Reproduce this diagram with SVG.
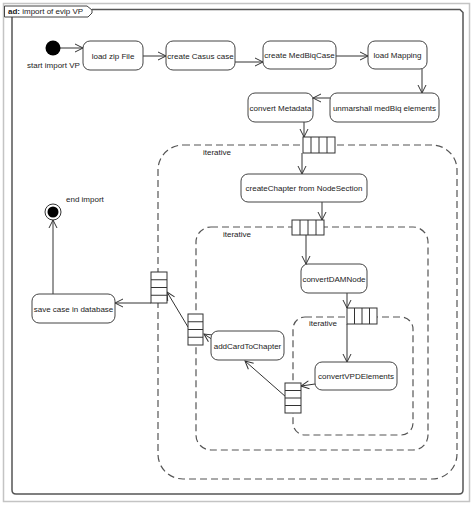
<svg xmlns="http://www.w3.org/2000/svg" width="474" height="507" viewBox="0 0 474 507">
<defs>
<marker id="arr" markerUnits="userSpaceOnUse" markerWidth="12" markerHeight="12" refX="9" refY="5" orient="auto">
<path d="M1,1 L9,5 L1,9" fill="none" stroke="#333" stroke-width="1"/>
</marker>
<style>
text{font-family:"Liberation Sans",Arial,sans-serif;font-size:8px;fill:#222}
.c{text-anchor:middle}
.node{fill:#fff;stroke:#444;stroke-width:1}
.pin{fill:#fff;stroke:#333;stroke-width:1}
.div{stroke:#333;stroke-width:1}
.region{fill:none;stroke:#555;stroke-width:1.2;stroke-dasharray:7 4}
.edge{fill:none;stroke:#333;stroke-width:1;marker-end:url(#arr)}
</style>
</defs>
<rect width="474" height="507" fill="#fff"/>
<!-- frame -->
<rect x="3.5" y="3.5" width="466" height="498" fill="none" stroke="#c4c4c4" stroke-width="1.5"/>
<path d="M92,9.5 H460 L463,12.5 V490 Q463,494 459,494 H16 Q12,494 12,490 V17" fill="none" stroke="#555" stroke-width="1.5"/>
<path d="M4.5,6 H87 L92,10 V13 L88,17 H4.5 Z" fill="#fff" stroke="#444" stroke-width="1"/>
<text x="8" y="14"><tspan font-weight="bold">ad:</tspan> import of evip VP</text>

<g id="regions">
<rect id="region1" class="region" x="158" y="145" width="299" height="334" rx="25"/>
<rect id="region2" class="region" x="196" y="227" width="232" height="223" rx="15"/>
<rect id="region3" class="region" x="293" y="317" width="120" height="118" rx="12"/>
<text x="203" y="155">iterative</text>
<text x="223" y="237">iterative</text>
<text x="309" y="326">iterative</text>
</g>

<g id="connectors">
<path class="edge" d="M60,48 H83"/>
<path class="edge" d="M143,56 H166"/>
<path class="edge" d="M235,62 H263"/>
<path class="edge" d="M336,56 H368"/>
<path class="edge" d="M422,69 V93"/>
<path class="edge" d="M330,98 H313"/>
<path class="edge" d="M304,122 V137"/>
<path class="edge" d="M302,153 V174"/>
<path class="edge" d="M322,202 V220"/>
<path class="edge" d="M306,235 V264"/>
<path class="edge" d="M347,293 V308"/>
<path class="edge" d="M347,324 V362"/>
<path class="edge" d="M315,384 L301,386"/>
<path class="edge" d="M286,397 L245,361"/>
<path class="edge" d="M213,340 L204,334"/>
<path class="edge" d="M188,327 L167,292"/>
<path class="edge" d="M151,303 H115"/>
<path class="edge" d="M53,294 V220"/>
</g>

<g id="start">
<circle cx="53" cy="48" r="7.5" fill="#000"/>
<text x="27" y="68">start import VP</text>
</g>
<g id="end">
<circle cx="53" cy="212" r="8" fill="#fff" stroke="#333" stroke-width="1"/>
<circle cx="53" cy="212" r="5.5" fill="#000"/>
<text x="66" y="202">end import</text>
</g>

<g id="loadZip"><rect class="node" x="83" y="41" width="60" height="29" rx="7"/><text class="c" x="113" y="58.5">load zip File</text></g>
<g id="createCasus"><rect class="node" x="166" y="41" width="69" height="29" rx="7"/><text class="c" x="200.5" y="58.5">create Casus case</text></g>
<g id="createMedBiq"><rect class="node" x="263" y="41" width="73" height="28" rx="7"/><text class="c" x="299.5" y="58">create MedBiqCase</text></g>
<g id="loadMapping"><rect class="node" x="368" y="41" width="59" height="28" rx="7"/><text class="c" x="397.5" y="58">load Mapping</text></g>
<g id="unmarshall"><rect class="node" x="330" y="93" width="109" height="29" rx="7"/><text class="c" x="384.5" y="110.5">unmarshall medBiq elements</text></g>
<g id="convertMetadata"><rect class="node" x="248" y="93" width="65" height="29" rx="7"/><text class="c" x="280.5" y="110.5">convert Metadata</text></g>
<g id="createChapter"><rect class="node" x="241" y="174" width="126" height="28" rx="7"/><text class="c" x="304" y="191">createChapter from NodeSection</text></g>
<g id="convertDAMNode"><rect class="node" x="301" y="264" width="66" height="29" rx="7"/><text class="c" x="334" y="281.5">convertDAMNode</text></g>
<g id="convertVPDElements"><rect class="node" x="315" y="362" width="82" height="28" rx="7"/><text class="c" x="356" y="379">convertVPDElements</text></g>
<g id="addCardToChapter"><rect class="node" x="211" y="331" width="73" height="29" rx="7"/><text class="c" x="247.5" y="348.5">addCardToChapter</text></g>
<g id="saveCase"><rect class="node" x="32" y="294" width="83" height="29" rx="7"/><text class="c" x="73.5" y="311.5">save case in database</text></g>

<g id="pin1"><rect class="pin" x="303" y="137" width="32" height="16"/><path class="div" d="M311,137 V153 M319,137 V153 M327,137 V153"/></g>
<g id="pin2"><rect class="pin" x="292" y="220" width="32" height="15"/><path class="div" d="M300,220 V235 M308,220 V235 M316,220 V235"/></g>
<g id="pin4"><rect class="pin" x="347" y="308" width="30" height="16"/><path class="div" d="M354.5,308 V324 M362,308 V324 M369.5,308 V324"/></g>
<g id="pinLeft"><rect class="pin" x="151" y="272" width="16" height="31"/><path class="div" d="M151,279.75 H167 M151,287.5 H167 M151,295.25 H167"/></g>
<g id="pin3"><rect class="pin" x="188" y="314" width="15" height="31"/><path class="div" d="M188,321.75 H203 M188,329.5 H203 M188,337.25 H203"/></g>
<g id="pin5"><rect class="pin" x="285" y="383" width="16" height="30"/><path class="div" d="M285,390.5 H301 M285,398 H301 M285,405.5 H301"/></g>
</svg>
